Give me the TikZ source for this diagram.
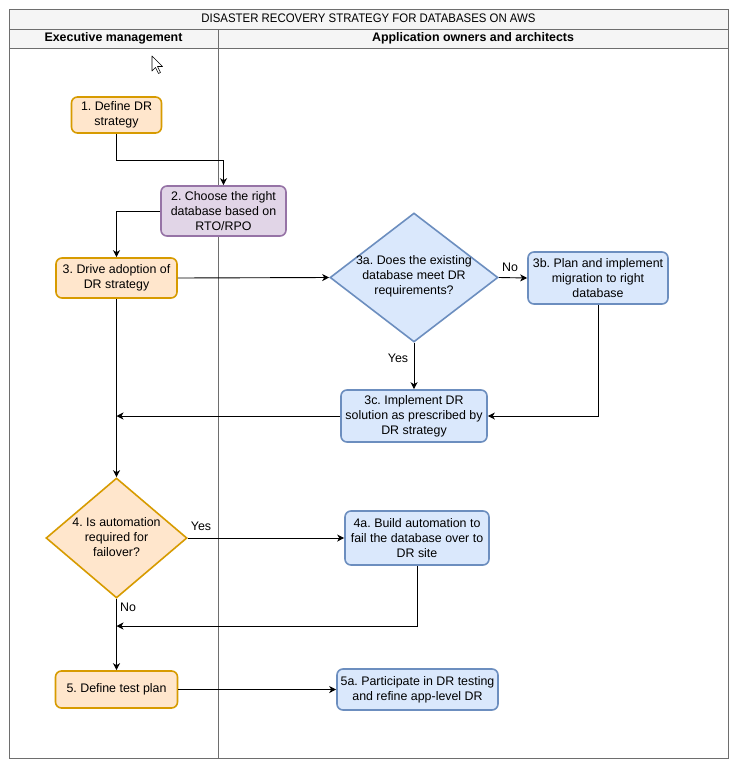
\documentclass[tikz,border=0pt]{standalone}
\usepackage{fontspec}
\setmainfont{Liberation Sans}
\usetikzlibrary{arrows.meta,shapes.geometric}
\definecolor{orfill}{HTML}{FFE6CC}
\definecolor{ordraw}{HTML}{D79B00}
\definecolor{pufill}{HTML}{E1D5E7}
\definecolor{pudraw}{HTML}{9673A6}
\definecolor{blfill}{HTML}{DAE8FC}
\definecolor{bldraw}{HTML}{6C8EBF}
\definecolor{lanegray}{HTML}{6E6E6E}
\definecolor{headfill}{HTML}{F5F5F5}
\newcommand{\cond}[2]{\scalebox{#1}[1]{#2}}
\frenchspacing
\begin{document}
\begin{tikzpicture}[x=1pt,y=-1pt,
  every node/.style={font=\fontsize{12.4}{15}\selectfont\frenchspacing},
  box/.style={rectangle, rounded corners=6pt, line width=1.6pt, align=center, inner sep=2pt},
  orbox/.style={box, fill=orfill, draw=ordraw},
  pubox/.style={box, fill=pufill, draw=pudraw},
  blbox/.style={box, fill=blfill, draw=bldraw},
  dec/.style={diamond, line width=1.6pt, inner sep=0pt},
  dectext/.style={align=center, inner sep=0pt},
  arr/.style={-{Stealth[length=7pt,width=7pt,inset=2pt]}, line width=0.9pt},
  lane/.style={draw=lanegray, line width=0.9pt},
  lbl/.style={inner sep=0pt}
]
\useasboundingbox (0,0) rectangle (736,766);
% pool
\path[lane, fill=white] (9,9) rectangle (728,758);
\path[lane, fill=headfill] (9,9) rectangle (728,29);
\path[lane, fill=headfill] (9,29) rectangle (728,48);
\draw[lane] (218,29) -- (218,758);
\node (title) at (368.5,18.5) {\cond{0.92}{DISASTER RECOVERY STRATEGY FOR DATABASES ON AWS}};
\node (h1) at (113.5,38) {\cond{1.0}{\bfseries Executive management}};
\node (h2) at (473,38) {\cond{1.0}{\bfseries Application owners and architects}};
% cursor
\draw[line width=0.6pt, fill=white, line join=round] (152,56) -- (152,71) -- (155.5,67.5) -- (158.5,73.5) -- (160.5,72.5) -- (157.5,66.5) -- (162.5,66.5) -- cycle;
% nodes
\node[orbox, minimum width=90pt, minimum height=36pt] (n1) at (116.5,115) {1. Define DR\\strategy};
\node[pubox, minimum width=125pt, minimum height=50pt] (n2) at (223.5,211) {2. Choose the right\\database based on\\RTO/RPO};
\node[orbox, minimum width=121pt, minimum height=40pt] (n3) at (116.5,278) {3. Drive adoption of\\DR strategy};
\node[dec, fill=blfill, draw=bldraw, minimum width=168pt, minimum height=129pt] (n3a) at (414,277.5) {};
\node[dectext] (n3at) at (414,276) {3a. Does the existing\\database meet DR\\requirements?};
\node[blbox, minimum width=140pt, minimum height=52pt] (n3b) at (598,278) {3b. Plan and implement\\migration to right\\database};
\node[blbox, minimum width=146pt, minimum height=52pt] (n3c) at (414,416) {3c. Implement DR\\solution as prescribed by\\DR strategy};
\node[dec, fill=orfill, draw=ordraw, minimum width=141pt, minimum height=120pt] (n4) at (116.5,538) {};
\node[dectext] (n4t) at (116.5,537) {4. Is automation\\required for\\failover?};
\node[blbox, minimum width=144pt, minimum height=54pt] (n4a) at (417,538) {4a. Build automation to\\fail the database over to\\DR site};
\node[orbox, minimum width=122pt, minimum height=37pt] (n5) at (116.5,689.5) {5. Define test plan};
\node[blbox, minimum width=161pt, minimum height=41pt] (n5a) at (417.5,689.5) {5a. Participate in DR testing\\and refine app-level DR};
% junctions
\coordinate (j1) at (116.5,416);
\coordinate (j2) at (116.5,626);
% connectors
\draw[arr] (n1.south) -- ++(0,27) -| (n2.north);
\draw[arr] (n2.west) -| (n3.north);
\draw[arr] (n3.east) -- (n3a.west);
\draw[arr] (n3a.east) -- (n3b.west);
\draw[arr] (n3a.south) -- (n3c.north);
\draw[arr] (n3b.south) |- (n3c.east);
\draw[arr] (n3c.west) -- (j1);
\draw[arr] (n3.south) -- (n4.north);
\draw[arr] (n4.east) -- (n4a.west);
\draw[arr] (n4a.south) |- (j2);
\draw[arr] (n4.south) -- (n5.north);
\draw[arr] (n5.east) -- (n5a.west);
% labels
\node[lbl] (lno1) at (510,267) {No};
\node[lbl] (lyes1) at (398,358) {Yes};
\node[lbl] (lyes2) at (201,526) {Yes};
\node[lbl] (lno2) at (128,607) {No};
\end{tikzpicture}
\end{document}
